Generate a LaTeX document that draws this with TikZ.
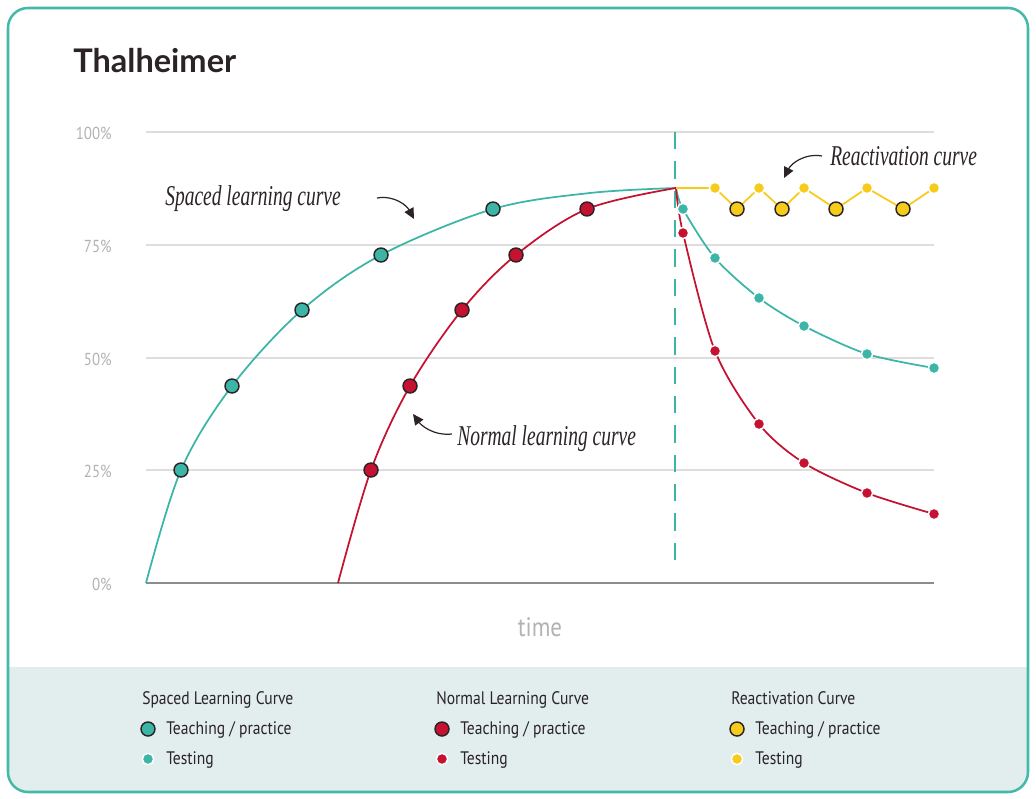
\documentclass[tikz,border=0pt]{standalone}
\usepackage{fontspec}
\setmainfont{Lato}
\newfontfamily\titlefont{Lato}
\newfontfamily\cond[FakeStretch=0.86]{PT Sans}
\newfontfamily\hand[FakeStretch=0.68]{Liberation Serif}
\usetikzlibrary{arrows.meta}
\definecolor{teal}{RGB}{59,181,166}
\definecolor{crim}{RGB}{196,18,48}
\definecolor{yel}{RGB}{246,203,26}
\definecolor{ink}{RGB}{43,35,38}
\definecolor{gridc}{RGB}{221,221,221}
\definecolor{axisc}{RGB}{140,140,140}
\definecolor{labc}{RGB}{178,178,178}
\definecolor{legbg}{RGB}{225,238,237}
\definecolor{framec}{RGB}{69,185,169}
\tikzset{
  teach/.style={circle, inner sep=0pt, minimum size=10.5pt, draw=ink, line width=1.1pt, fill=#1},
  testpt/.style={circle, inner sep=0pt, minimum size=8.5pt, draw=white, line width=1.1pt, fill=#1},
  curve/.style={line width=1.3pt, draw=#1},
  axlab/.style={anchor=east, text=labc, font=\cond\fontsize{13}{15}\selectfont, inner sep=0pt},
  note/.style={anchor=base west, text=ink, font=\hand\itshape\fontsize{21.5}{24}\selectfont, inner sep=0pt},
  notearrow/.style={draw=ink, line width=0.9pt, -{Triangle[length=8pt,width=7.5pt]}},
  leghead/.style={anchor=base west, text=ink, font=\cond\fontsize{13.6}{15}\selectfont, inner sep=0pt},
  legtext/.style={anchor=base west, text=ink, font=\cond\fontsize{13.6}{15}\selectfont, inner sep=0pt},
}
\begin{document}
\begin{tikzpicture}[x=0.75pt,y=-0.75pt]
\useasboundingbox (0,0) rectangle (1036,799);
% frame and legend background
\begin{scope}
  \clip[rounded corners=15pt] (8,8) rectangle (1028,792);
  \fill[white] (0,0) rectangle (1036,799);
  \fill[legbg] (0,667) rectangle (1036,799);
\end{scope}
\draw[framec, line width=1.9pt, rounded corners=15pt] (8,8) rectangle (1028,792);
% title
\node[anchor=west, text=ink, font=\titlefont\bfseries\fontsize{24.4}{28}\selectfont, inner sep=0pt] (title) at (73,61) {Thalheimer};
% grid
\foreach \yy in {132,245,358,470} \draw[gridc, line width=0.9pt] (146,\yy) -- (934,\yy);
\draw[axisc, line width=1.4pt] (146,583) -- (934,583);
\node[axlab] (l100) at (112,133) {100\%};
\node[axlab] (l75) at (112,246) {75\%};
\node[axlab] (l50) at (112,359) {50\%};
\node[axlab] (l25) at (112,471) {25\%};
\node[axlab] (l0) at (112,584) {0\%};
\node[text=labc, font=\cond\fontsize{20}{24}\selectfont, inner sep=0pt] (time) at (540,627) {time};
% dashed divider
\draw[teal, line width=1.1pt, dash pattern=on 13pt off 9pt] (675,132) -- (675,565);
% points
\coordinate (P) at (676,188);
\coordinate (s0) at (146,583);
\coordinate (s1) at (181,470);
\coordinate (s2) at (232,386);
\coordinate (s3) at (302,310);
\coordinate (s4) at (381,255);
\coordinate (s5) at (493,209);
\coordinate (sm) at (590,193);
\coordinate (n0) at (338,583);
\coordinate (n1) at (371,470);
\coordinate (n2) at (410,386);
\coordinate (n3) at (462,310);
\coordinate (n4) at (516,255);
\coordinate (n5) at (587,209);
\coordinate (st1) at (683,209);
\coordinate (st2) at (715,258);
\coordinate (st3) at (759,298);
\coordinate (st4) at (804,326);
\coordinate (st5) at (867,354);
\coordinate (st6) at (934,368);
\coordinate (nt1) at (683,233);
\coordinate (nt2) at (715,351);
\coordinate (nt3) at (759,424);
\coordinate (nt4) at (804,463);
\coordinate (nt5) at (867,493);
\coordinate (nt6) at (934,514);
\coordinate (r0) at (715,188);
\coordinate (r1) at (737,209);
\coordinate (r2) at (759,188);
\coordinate (r3) at (782,209);
\coordinate (r4) at (804,188);
\coordinate (r5) at (836,209);
\coordinate (r6) at (867,188);
\coordinate (r7) at (903,209);
\coordinate (r8) at (934,188);
% curves
\draw[curve=teal] plot[smooth, tension=0.55] coordinates {(s0) (s1) (s2) (s3) (s4) (s5) (sm) (P)};
\draw[curve=crim] plot[smooth, tension=0.55] coordinates {(n0) (n1) (n2) (n3) (n4) (n5) (P)};
\draw[curve=teal] plot[smooth, tension=0.5] coordinates {(P) (st1) (st2) (st3) (st4) (st5) (st6)};
\draw[curve=crim] plot[smooth, tension=0.5] coordinates {(P) (nt1) (nt2) (nt3) (nt4) (nt5) (nt6)};
\draw[yel, line width=1.3pt] (P) -- (r0) -- (r1) -- (r2) -- (r3) -- (r4) -- (r5) -- (r6) -- (r7) -- (r8);
% markers
\foreach \p in {s1,s2,s3,s4,s5} \node[teach=teal] at (\p) {};
\foreach \p in {n1,n2,n3,n4,n5} \node[teach=crim] at (\p) {};
\foreach \p in {st1,st2,st3,st4,st5,st6} \node[testpt=teal] at (\p) {};
\foreach \p in {nt1,nt2,nt3,nt4,nt5,nt6} \node[testpt=crim] at (\p) {};
\foreach \p in {r0,r2,r4,r6,r8} \node[testpt=yel] at (\p) {};
\foreach \p in {r1,r3,r5,r7} \node[teach=yel] at (\p) {};
% annotations
\node[note] (spl) at (165,205) {Spaced learning curve};
\coordinate (sa0) at (377,198);
\coordinate (sa1) at (414,219);
\draw[notearrow] (sa0) .. controls (395,195) and (407,206) .. (sa1);
\node[note] (nl) at (457,445) {Normal learning curve};
\coordinate (na0) at (452,434);
\coordinate (na1) at (413,414);
\draw[notearrow] (na0) .. controls (433,436) and (421,425) .. (na1);
\node[note] (rl) at (830,166) {Reactivation curve};
\coordinate (ra0) at (822,156);
\coordinate (ra1) at (784,178);
\draw[notearrow] (ra0) .. controls (804,153) and (791,164) .. (ra1);
% legend
\node[leghead] (h1) at (142,704) {Spaced Learning Curve};
\node[leghead] (h2) at (436,704) {Normal Learning Curve};
\node[leghead] (h3) at (731,704) {Reactivation Curve};
\node[teach=teal] (k1) at (148,729) {};
\node[legtext] (t1) at (166,734) {Teaching / practice};
\node[testpt=teal] (k2) at (148,759) {};
\node[legtext] (t2) at (166,764) {Testing};
\node[teach=crim] (k3) at (442,729) {};
\node[legtext] (t3) at (460,734) {Teaching / practice};
\node[testpt=crim] (k4) at (442,759) {};
\node[legtext] (t4) at (460,764) {Testing};
\node[teach=yel] (k5) at (737,729) {};
\node[legtext] (t5) at (755,734) {Teaching / practice};
\node[testpt=yel] (k6) at (737,759) {};
\node[legtext] (t6) at (755,764) {Testing};
\end{tikzpicture}
\end{document}
